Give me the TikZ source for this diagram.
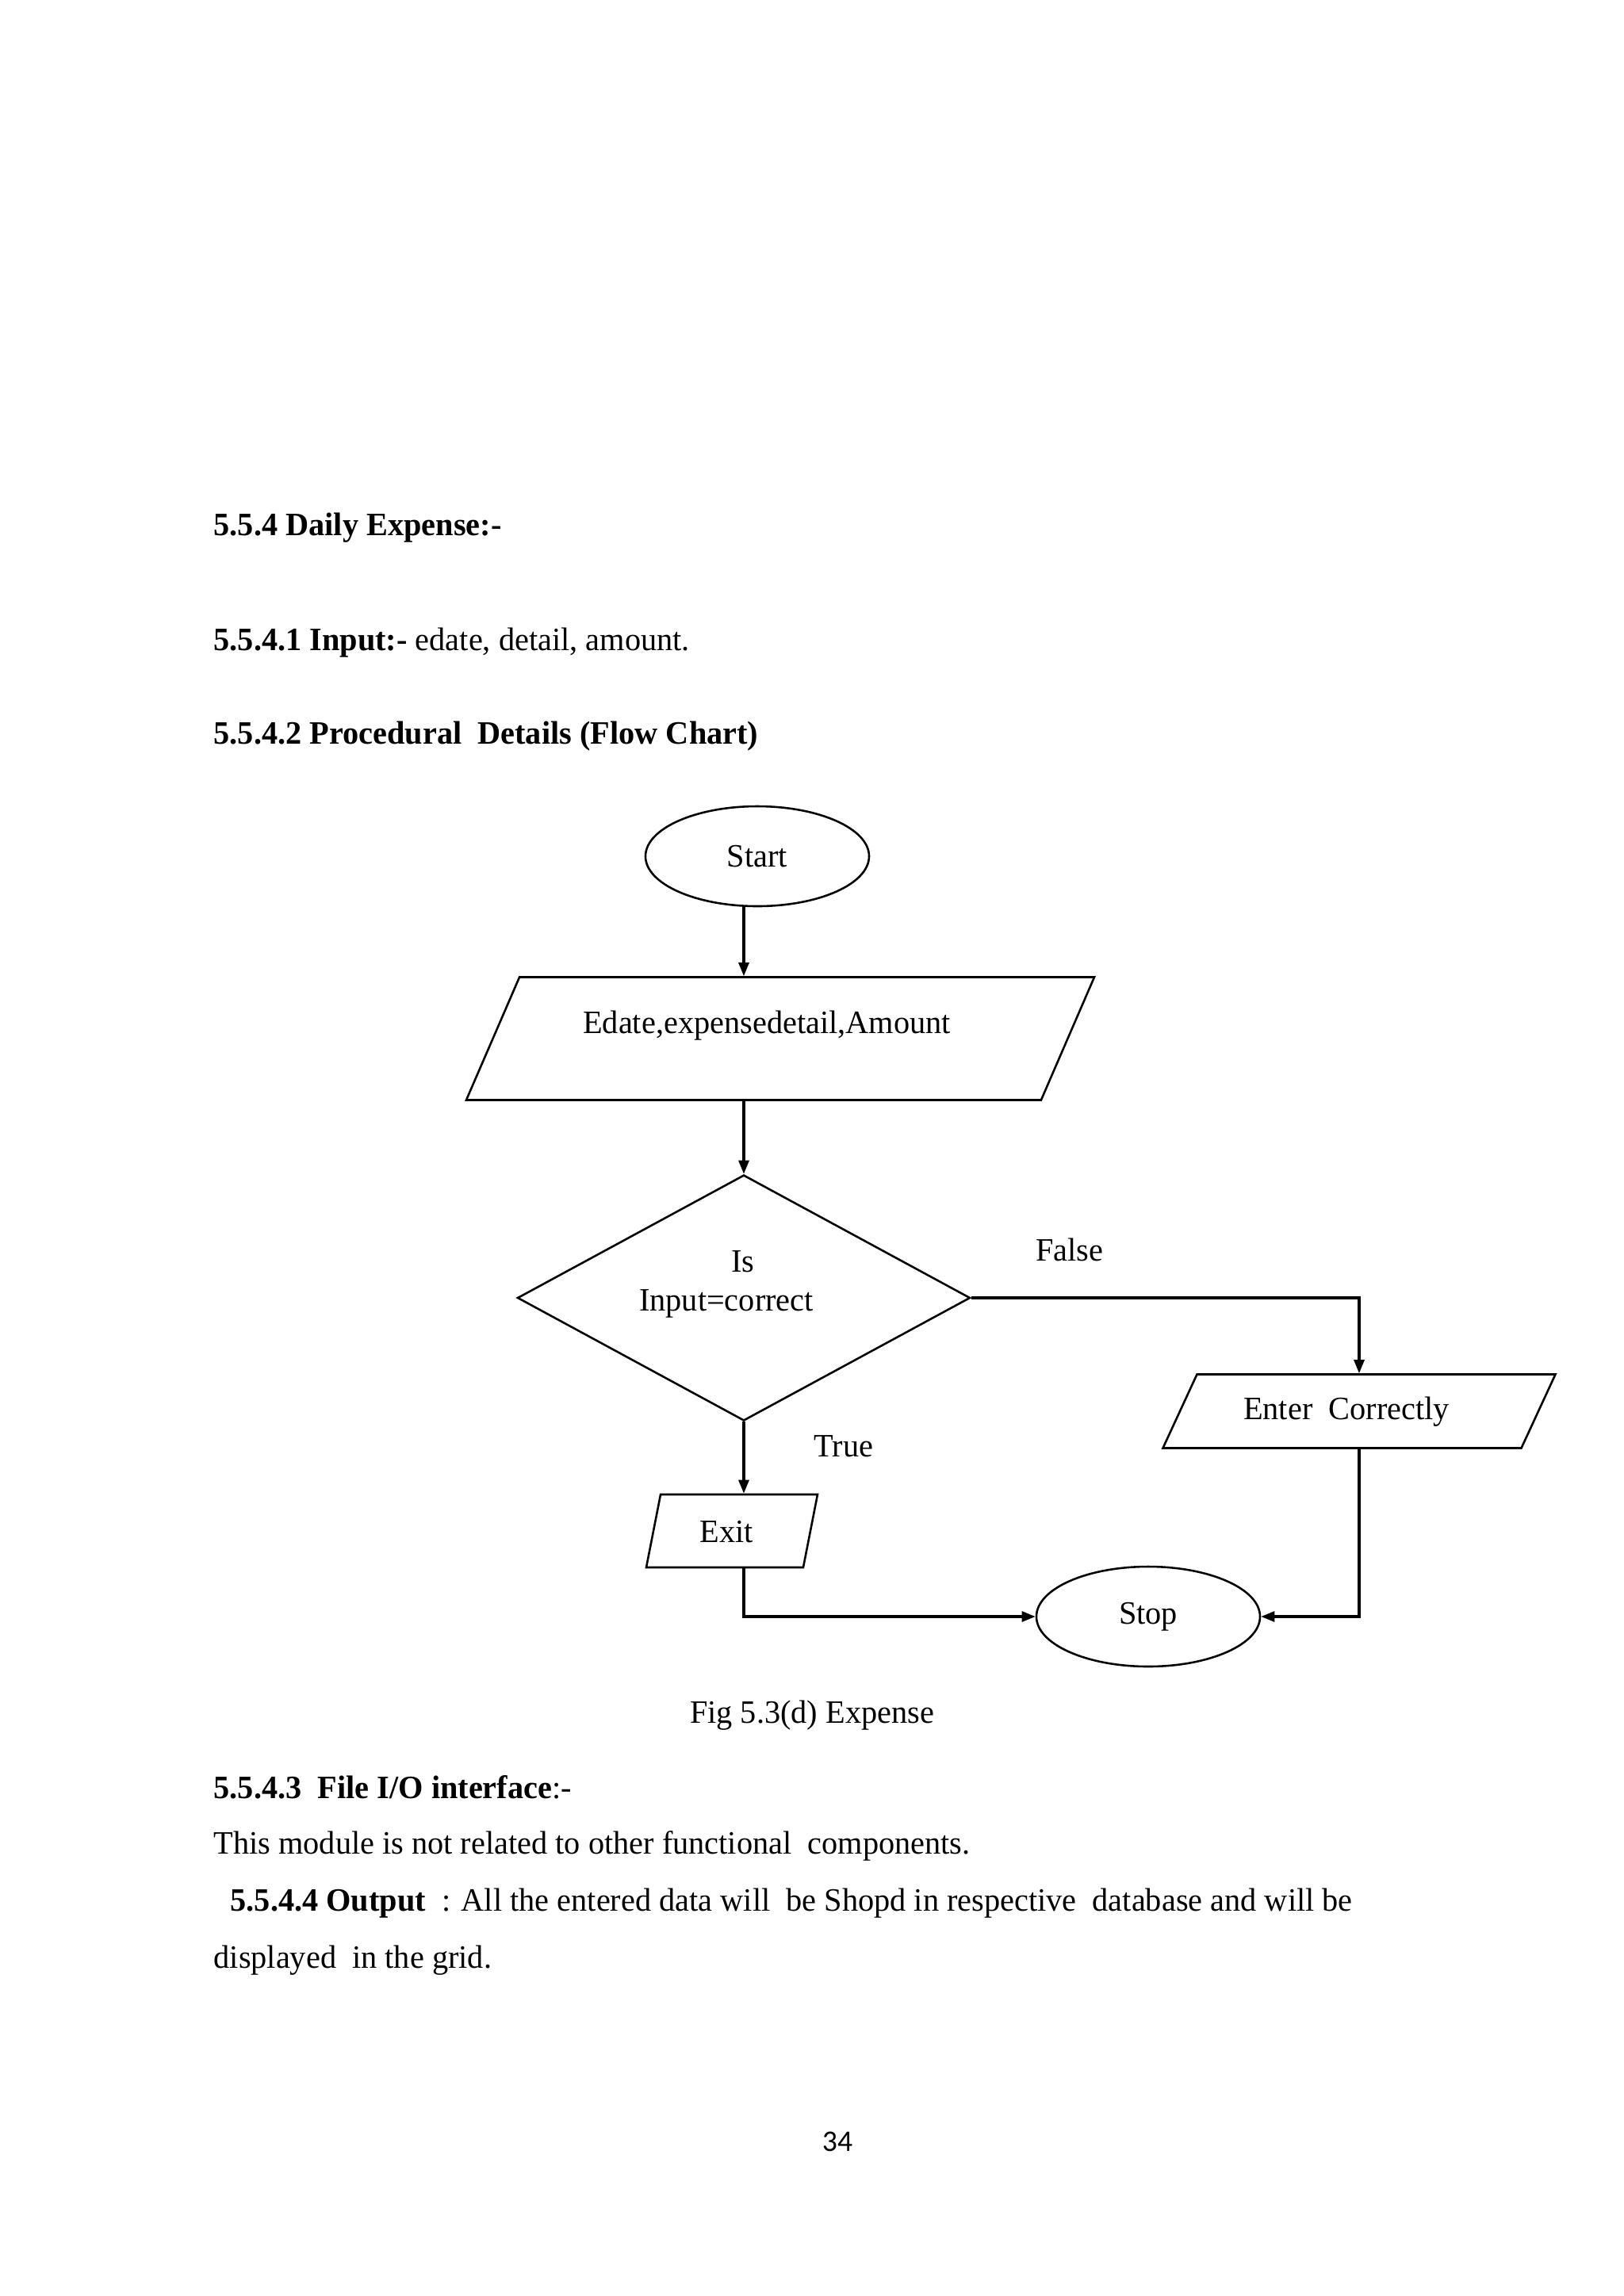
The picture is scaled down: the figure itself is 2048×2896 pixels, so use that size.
\documentclass[tikz,border=0pt]{standalone}
\usepackage{fontspec}
\setmainfont[FakeStretch=0.98]{Liberation Serif}
\newfontfamily\pagefont{Carlito}
\usetikzlibrary{shapes.geometric}
\usetikzlibrary{arrows.meta}
\newcommand{\pu}{0.10254mm}
\newcommand{\dotbox}{\phantom{\rule{1pt}{1pt}}}
\tikzset{
  txt/.style={font=\fontsize{12}{14.3}\selectfont, inner sep=0pt},
  term/.style={draw, ellipse, line width=0.75pt, minimum width=282*\pu, minimum height=126*\pu, inner sep=0pt, txt},
  io/.style={draw, trapezium, trapezium stretches body=true, line width=0.75pt, inner xsep=0pt, inner ysep={(#1*\pu-1pt)/2}},
  dec/.style={draw, diamond, line width=0.75pt, inner sep=0pt},
  flow/.style={line width=0.9pt, -{Triangle[length=5pt,width=3.8pt]}}
}
\begin{document}
\begin{tikzpicture}[x=\pu,y=-\pu]
        \useasboundingbox (0,0) rectangle (2048,2896);
        %headings
        \node[txt,anchor=base west] (h1) at (269,675) {\textbf{5.5.4 Daily Expense:-}};
        \node[txt,anchor=base west] (h2) at (269,820) {\textbf{5.5.4.1 Input:-} edate, detail,~amount.};
        \node[txt,anchor=base west] (h3) at (269,938) {\textbf{5.5.4.2 Procedural~ Details (Flow Chart)}};
        %shapes
        \node[term] (start) at (955,1080) {Start};
        \node[io=155, trapezium left angle=66.6, trapezium right angle=113.4, minimum width=792*\pu] (input) at (984,1310) {\dotbox};
        \node[txt,anchor=base] (inputtxt) at (967,1303) {Edate,expensedetail,Amount};
        \node[dec, minimum width=571*\pu, minimum height=310*\pu] (dia) at (938,1637) {\phantom{X}};
        \node[txt,anchor=base] (istxt) at (937,1604) {Is};
        \node[txt,anchor=base] (diatxt) at (916,1653) {Input=correct};
        \node[io=93, trapezium left angle=65.2, trapezium right angle=114.8, minimum width=495*\pu] (enter) at (1714,1780) {\dotbox};
        \node[txt,anchor=base] (entertxt) at (1698,1790) {Enter~ Correctly};
        \node[io=92, trapezium left angle=78.9, trapezium right angle=101.1, minimum width=216*\pu] (exit) at (923,1931) {\dotbox};
        \node[txt,anchor=base] (exittxt) at (916,1945) {Exit};
        \node[term] (stop) at (1448,2039) {Stop};
        %labels
        \node[txt,anchor=base] (falselbl) at (1349,1590) {False};
        \node[txt,anchor=base] (truelbl) at (1064,1837) {True};
        %edges
        \draw[flow] (start.south -| dia.north) -- (input.north -| dia.north);
        \draw[flow] (input.south -| dia.north) -- (dia.north);
        \draw[flow] (dia.east) -| (enter.north);
        \draw[flow] (dia.south) -- (exit.north -| dia.south);
        \draw[flow] (exit.south -| dia.south) |- (stop.west);
        \draw[flow] (enter.south) |- (stop.east);
        %text below
        \node[txt,anchor=base] (cap) at (1024,2173) {Fig 5.3(d) Expense};
        \node[txt,anchor=base west] (h4) at (269,2268) {\textbf{5.5.4.3~ File I/O interface}:-};
        \node[txt,anchor=base west] (p1) at (269,2338) {This module is not related to other functional~ components.};
        \node[txt,anchor=base west] (p2) at (290,2410) {\textbf{5.5.4.4 Output}~ : All the entered data will~ be Shopd in respective~ database and will be};
        \node[txt,anchor=base west] (p3) at (269,2482) {displayed~ in the grid.};
        \node[anchor=base,inner sep=0pt,font=\pagefont\fontsize{11}{13}\selectfont] (pnum) at (1056,2713) {34};
\end{tikzpicture}
\end{document}
